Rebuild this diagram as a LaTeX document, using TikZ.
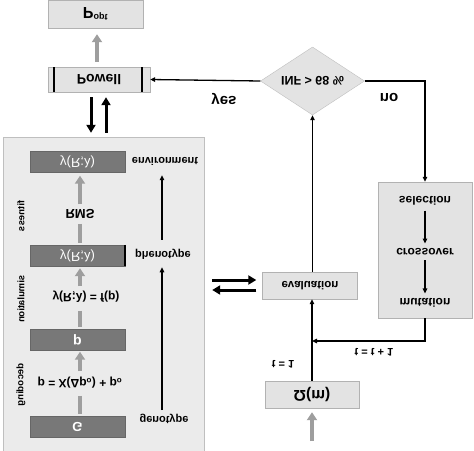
\documentclass[tikz,border=0pt]{standalone}
\usepackage{fontspec}
\setmainfont{Liberation Sans}
\usepackage{graphicx}
\usetikzlibrary{arrows.meta,shapes.geometric}
\newcommand{\fv}[1]{\scalebox{1}[-1]{#1}}
\newcommand{\fr}[1]{\scalebox{-1}[1]{#1}}
\newcommand{\fsz}[1]{\fontsize{#1}{#1}\selectfont}
\begin{document}
\begin{tikzpicture}[x=1pt,y=-1pt,
  lbox/.style={draw=black!30, fill=black!11, inner sep=0pt, font=\bfseries\fsz{12}},
  dbox/.style={draw=black!60, fill=black!53, text=white, inner sep=0pt, minimum width=95pt, minimum height=21pt, font=\fsz{13}},
  garr/.style={draw=black!38, line width=3.5pt, -{Triangle[length=8pt,width=10pt]}},
  gbar/.style={draw=black!38, line width=3.5pt},
  tarr/.style={draw=black, line width=1.3pt, -{Triangle[length=5pt,width=4.5pt]}},
  barr/.style={draw=black, line width=3pt, -{Triangle[length=8pt,width=9pt]}},
  lbl/.style={inner sep=0pt, font=\bfseries\fsz{11}},
  side/.style={inner sep=0pt, rotate=90, font=\bfseries\fsz{9.5}}
]
\useasboundingbox (0,0) rectangle (474,450);
\fill[white] (0,0) rectangle (474,450);

% left panel
\node[draw=black!25, fill=black!8, minimum width=201pt, minimum height=320pt, inner sep=0pt] (panel) at (103.5,297) {};

% top boxes
\node[lbox, minimum width=95pt, minimum height=28pt, font=\bfseries\fsz{16}] (popt) at (95.5,14) {\fv{P\textsuperscript{\fsz{9}opt}}};
\node[lbox, minimum width=102pt, minimum height=25pt, font=\bfseries\fsz{14}] (powell) at (99,79.5) {\fv{Powell}};
\draw[black, line width=1.5pt] (54,67) -- (54,92) (142,67) -- (142,92);

% decision
\node[diamond, draw=black!25, fill=black!11, minimum width=104pt, minimum height=68pt, inner sep=0pt, aspect=1.53, font=\bfseries\fsz{12.5}] (dec) at (312.5,81) {\fv{INF > 68 \%}};

% right column
\node[lbox, minimum width=95pt, minimum height=27pt, font=\bfseries\fsz{11.5}] (eval) at (310,285.5) {\fv{evaluation}};
\node[lbox, minimum width=94pt, minimum height=136pt] (sel) at (425,250) {};
\node[inner sep=0pt, font=\bfseries\fsz{12}] (selt) at (425,201) {\fv{selection}};
\node[inner sep=0pt, font=\bfseries\fsz{12}] (cros) at (425,252) {\fv{crossover}};
\node[inner sep=0pt, font=\bfseries\fsz{12}] (mut) at (425,303) {\fv{mutation}};
\node[lbox, minimum width=94pt, minimum height=27pt, font=\bfseries\fsz{15.5}] (om) at (312,394.5) {\fv{Ω(m)}};
\coordinate (ombot) at (312,441);
\coordinate (join) at (312,341);

% panel content
\node[dbox] (env) at (77.5,162) {\fv{y(R;λ)}};
\node[dbox] (phen) at (77.5,255.5) {\fv{y(R;λ)}};
\draw[black, line width=2pt] (phen.north east) -- (phen.south east);
\node[dbox, font=\bfseries\fsz{14}] (pbox) at (77.5,340) {\fv{p}};
\node[dbox, font=\bfseries\fsz{13}] (gbox) at (77.5,426.5) {\fv{G}};
\coordinate (col) at (80,0);
\node[inner sep=0pt, font=\bfseries\fsz{13}] (rms) at (80,214) {\fv{RMS}};
\node[inner sep=0pt, font=\bfseries\fsz{12}] (simf) at (86,297) {\fv{y(R;λ) = f(p)}};
\node[inner sep=0pt, font=\bfseries\fsz{12}] (decf) at (80,383) {\fv{p = X(Δp\textsubscript{o}) + p\textsubscript{o}}};
\node[lbl] (envl) at (165,161) {\fv{environment}};
\node[lbl] (phenl) at (163,254) {\fv{phenotype}};
\node[lbl] (genl) at (164,419) {\fv{genotype}};
\node[side] (fitl) at (21,216) {\fr{fitness}};
\node[side] (siml) at (21,299) {\fr{simulation}};
\node[side] (decl) at (21,385) {\fr{decoding}};

% labels
\node[inner sep=0pt, font=\bfseries\fsz{15}] (yes) at (224,99) {\fv{yes}};
\node[inner sep=0pt, font=\bfseries\fsz{15}] (no) at (389,97) {\fv{no}};
\node[inner sep=0pt, font=\bfseries\fsz{11}] (t1) at (283,364) {\fv{t = 1}};
\node[inner sep=0pt, font=\bfseries\fsz{11}] (tt) at (374,352) {\fv{t = t + 1}};

% connectors
\draw[garr, shorten <=5pt, shorten >=6pt] ([xshift=-2pt]powell.north) -- ([xshift=1.5pt]popt.south);
\draw[barr, shorten <=5pt, shorten >=4pt] ([xshift=-8pt]powell.south) -- ([xshift=-12.5pt]panel.north);
\draw[barr, shorten <=4pt, shorten >=5pt] ([xshift=2.5pt]panel.north) -- ([xshift=7pt]powell.south);
\draw[tarr] (dec.west) -- (powell.east);
\draw[tarr] (dec.east) -| (sel.north);
\draw[tarr] (eval.north -| dec.south) -- (dec.south);
\draw[tarr, shorten <=5pt, shorten >=5pt] (selt) -- (cros);
\draw[tarr, shorten <=5pt, shorten >=5pt] (cros) -- (mut);
\draw[tarr] (sel.south) |- (join);
\draw[tarr] (om.north) -- (eval.south -| om.north);
\draw[garr, shorten >=4pt] (ombot) -- (om.south);

\coordinate (ya) at (0,280);
\coordinate (yb) at (0,290);
\draw[barr, shorten <=8pt, shorten >=6pt] (panel.east |- ya) -- (eval.west |- ya);
\draw[barr, shorten <=6pt, shorten >=8pt] (eval.west |- yb) -- (panel.east |- yb);

\draw[garr, shorten <=5pt, shorten >=3pt] (rms.north -| col) -- (env.south -| col);
\draw[gbar, shorten <=5pt, shorten >=2pt] (rms.south -| col) -- (phen.north -| col);
\draw[garr, shorten <=5pt, shorten >=2pt] (simf.north -| col) -- (phen.south -| col);
\draw[gbar, shorten <=8pt, shorten >=2pt] (simf.south -| col) -- (pbox.north -| col);
\draw[garr, shorten <=6pt, shorten >=1pt] (decf.north -| col) -- (pbox.south -| col);
\draw[gbar, shorten <=7pt, shorten >=2pt] (decf.south -| col) -- (gbox.north -| col);

\draw[tarr, shorten <=9pt, shorten >=10pt] (phenl.north -| 162,0) -- (envl.south -| 162,0);
\draw[tarr, shorten <=4pt, shorten >=8pt] (genl.north -| 162,0) -- (phenl.south -| 162,0);
\end{tikzpicture}
\end{document}
